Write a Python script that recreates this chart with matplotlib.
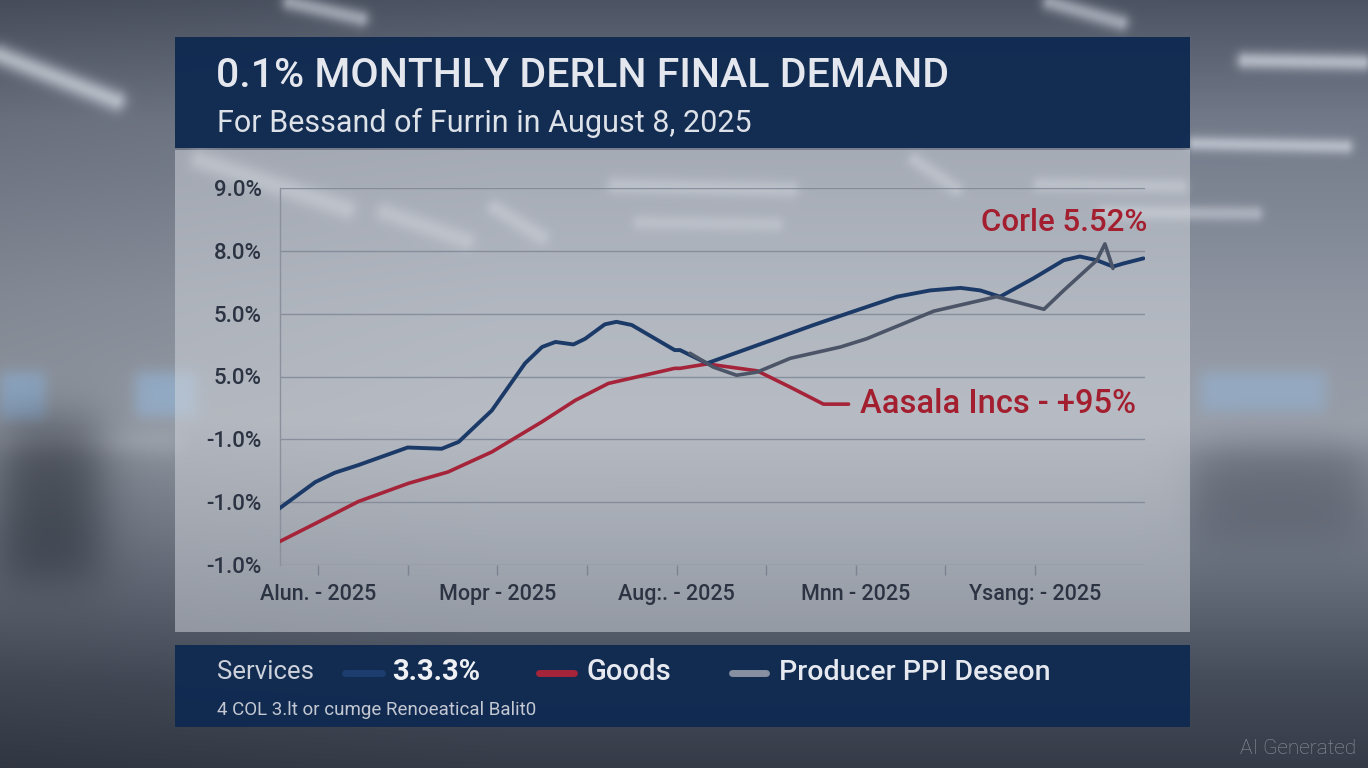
import numpy as np
import matplotlib
matplotlib.use("Agg")
import matplotlib.pyplot as plt
from matplotlib.patches import Rectangle

plt.rcParams['font.family'] = ['Roboto', 'DejaVu Sans']

# ---------------- data ----------------
title = "0.1% MONTHLY DERLN FINAL DEMAND"
subtitle = "For Bessand of Furrin in August 8, 2025"
y_tick_labels = ['-1.0%', '-1.0%', '-1.0%', '5.0%', '5.0%', '8.0%', '9.0%']
x_tick_labels = ['Alun. - 2025', '', 'Mopr - 2025', '', 'Aug:. - 2025', '', 'Mnn - 2025', '', 'Ysang: - 2025']

services_x = [-0.46, -0.03, 0.19, 0.45, 1.0, 1.38, 1.57, 1.94, 2.31, 2.50, 2.65, 2.85, 2.98, 3.20, 3.33,
              3.50, 3.98, 4.04, 4.34, 4.75, 5.16, 5.53, 5.90, 6.46, 6.83, 7.17, 7.39, 7.61, 7.98, 8.32,
              8.50, 8.69, 8.87, 8.99, 9.21]
services_y = [0.87, 1.32, 1.47, 1.59, 1.87, 1.85, 1.96, 2.46, 3.21, 3.47, 3.55, 3.51, 3.60, 3.83, 3.87,
              3.82, 3.42, 3.42, 3.21, 3.42, 3.63, 3.82, 4.00, 4.27, 4.37, 4.41, 4.37, 4.27, 4.56, 4.85,
              4.91, 4.85, 4.75, 4.80, 4.88]

goods_x = [-0.46, -0.03, 0.45, 1.01, 1.45, 1.94, 2.50, 2.87, 3.24, 3.98, 4.04, 4.34, 4.90, 5.27, 5.64, 5.92]
goods_y = [0.35, 0.66, 1.01, 1.30, 1.48, 1.80, 2.28, 2.62, 2.89, 3.13, 3.13, 3.20, 3.09, 2.83, 2.56, 2.56]

ppi_x = [4.15, 4.41, 4.67, 4.90, 5.27, 5.83, 6.12, 6.87, 7.57, 8.10, 8.32, 8.69, 8.78, 8.87]
ppi_y = [3.37, 3.15, 3.02, 3.07, 3.29, 3.47, 3.60, 4.04, 4.27, 4.07, 4.37, 4.85, 5.11, 4.72]

legend_labels = ['Services', '3.3.3%', 'Goods', 'Producer PPI Deseon']
footnote = "4 COL 3.lt or cumge Renoeatical Balit0"
annot_core = "Corle 5.52%"
annot_goods = "Aasala Incs - +95%"
watermark = "AI Generated"

# ---------------- colours ----------------
NAVY = '#102a51'
BLUE = '#1c3a68'
RED = '#a5243a'
GREY = '#4b5567'
ANNOT_RED = '#a31f30'

W, H = 1368, 768
fig = plt.figure(figsize=(W / 100, H / 100), dpi=100)

# ---------------- blurred office-like background ----------------
bg = fig.add_axes([0, 0, 1, 1])
yy, xx = np.mgrid[0:H, 0:W].astype(float)
stops_y = [0, 120, 300, 420, 560, 680, 768]
cols = np.array([[0x4c, 0x53, 0x62], [0x72, 0x79, 0x88], [0x8e, 0x95, 0xa1], [0x9a, 0xa0, 0xaa],
                 [0x6c, 0x73, 0x80], [0x45, 0x4c, 0x59], [0x35, 0x3b, 0x47]], float) / 255
img = np.zeros((H, W, 3))
for c in range(3):
    img[..., c] = np.interp(yy, stops_y, cols[:, c])
img *= (0.92 + 0.08 * np.clip(xx / 500, 0, 1))[..., None]


def soft_rect(x0, y0, x1, y1, color, alpha, blur=6):
    global img
    fx = 1 / (1 + np.exp(-(xx - x0) / blur)) * 1 / (1 + np.exp((xx - x1) / blur))
    fy = 1 / (1 + np.exp(-(yy - y0) / blur)) * 1 / (1 + np.exp((yy - y1) / blur))
    m = (fx * fy * alpha)[..., None]
    img = img * (1 - m) + np.array(color)[None, None, :] * m


def light_bar(x0, y0, x1, y1, width, alpha=0.55):
    global img
    px, py = x1 - x0, y1 - y0
    t = np.clip(((xx - x0) * px + (yy - y0) * py) / (px * px + py * py), 0, 1)
    d = np.hypot(xx - (x0 + t * px), yy - (y0 + t * py))
    m = (alpha * np.exp(-(d / width) ** 2))[..., None]
    img = img * (1 - m) + np.array([0.90, 0.92, 0.95])[None, None, :] * m


for seg in [(0, 55, 115, 100, 11, 0.6), (290, 2, 360, 18, 9, 0.5), (1050, 2, 1120, 22, 9, 0.5),
            (1245, 60, 1362, 62, 9, 0.6), (1195, 143, 1345, 146, 8, 0.55),
            (200, 160, 345, 208, 11, 0.4), (385, 212, 465, 240, 10, 0.35), (495, 208, 540, 236, 9, 0.35),
            (615, 185, 790, 189, 9, 0.35), (640, 222, 775, 224, 8, 0.3), (915, 160, 955, 188, 8, 0.35),
            (1040, 184, 1180, 186, 8, 0.35), (1105, 212, 1255, 213, 8, 0.4)]:
    light_bar(*seg)
# monitors and desks
soft_rect(0, 372, 45, 420, (0.55, 0.68, 0.82), 0.7, 4)
soft_rect(135, 372, 196, 416, (0.58, 0.70, 0.83), 0.7, 4)
soft_rect(1200, 372, 1325, 412, (0.58, 0.70, 0.83), 0.6, 4)
soft_rect(0, 430, 180, 450, (0.72, 0.74, 0.78), 0.45, 6)
soft_rect(0, 420, 100, 580, (0.14, 0.16, 0.20), 0.6, 14)
soft_rect(1190, 420, 1368, 450, (0.70, 0.72, 0.76), 0.4, 6)
soft_rect(1190, 440, 1368, 540, (0.25, 0.28, 0.33), 0.45, 14)
bg.imshow(img, extent=(0, W, H, 0), aspect='auto', interpolation='bilinear')
bg.set_xlim(0, W)
bg.set_ylim(H, 0)
bg.axis('off')

# panels
bg.add_patch(Rectangle((175, 150), 1015, 482, facecolor='#d4d8de', alpha=0.5, edgecolor='none'))
bg.add_patch(Rectangle((175, 37), 1015, 111, facecolor=NAVY, alpha=0.97, edgecolor='none'))
bg.add_patch(Rectangle((175, 645), 1015, 82, facecolor=NAVY, alpha=0.97, edgecolor='none'))

# titles
bg.text(216, 76, title, fontsize=29.5, fontweight='medium', color='#e4e7ee', va='center', ha='left')
bg.text(217, 123, subtitle, fontsize=22, color='#dde1e8', va='center', ha='left')

# legend row
bg.text(217, 672, legend_labels[0], fontsize=18.5, color='#ccd1da', va='center', ha='left')
bg.plot([345, 382], [673, 673], color='#1d3d6e', lw=5, solid_capstyle='round')
bg.text(392, 672, legend_labels[1], fontsize=21, fontweight='bold', color='#eef0f4', va='center', ha='left')
bg.plot([539, 574], [673, 673], color=RED, lw=5, solid_capstyle='round')
bg.text(586, 672, legend_labels[2], fontsize=21, fontweight='medium', color='#e6e9ef', va='center', ha='left')
bg.plot([732, 766], [673, 673], color='#8790a0', lw=5, solid_capstyle='round')
bg.text(779, 672, legend_labels[3], fontsize=20.5, fontweight='medium', color='#e6e9ef', va='center', ha='left')
bg.text(217, 710, footnote, fontsize=13.5, color='#c3c8d2', va='center', ha='left')

bg.text(1356, 748, watermark, fontsize=15, color='#8e94a0', va='center', ha='right', fontweight='light')

# ---------------- chart ----------------
x_left_px, x_right_px = 280, 1145
y_top_px, y_bot_px = 188, 565
ax = fig.add_axes([x_left_px / W, 1 - y_bot_px / H, (x_right_px - x_left_px) / W, (y_bot_px - y_top_px) / H])
ax.patch.set_alpha(0)
tick_step_px = (1035 - 318) / 8
ax.set_xlim((x_left_px - 318) / tick_step_px, (x_right_px - 318) / tick_step_px)
ax.set_ylim(0, 6)

ax.set_yticks(range(len(y_tick_labels)))
ax.set_yticklabels(y_tick_labels)
ax.set_xticks(range(len(x_tick_labels)))
ax.set_xticklabels(x_tick_labels)
ax.tick_params(axis='y', length=0, pad=13, labelsize=16, labelcolor='#2c3342')
ax.tick_params(axis='x', length=7, width=1, color='#7c8392', pad=7, labelsize=15.5, labelcolor='#2c3342')
for lab in ax.get_xticklabels() + ax.get_yticklabels():
    lab.set_fontweight('medium')
ax.grid(axis='y', color='#7e8593', lw=1, alpha=0.8)
for s in ['top', 'right', 'bottom']:
    ax.spines[s].set_visible(False)
ax.spines['left'].set_color('#8a909c')
ax.spines['left'].set_linewidth(1)

ax.plot(goods_x, goods_y, color=RED, lw=2.6, solid_capstyle='round', solid_joinstyle='round', zorder=3)
ax.plot(services_x, services_y, color=BLUE, lw=2.8, solid_capstyle='round', solid_joinstyle='round', zorder=4)
ax.plot(ppi_x, ppi_y, color=GREY, lw=2.6, solid_capstyle='round', solid_joinstyle='round', zorder=5)

ax.text(goods_x[-1] + 0.13, goods_y[-1], annot_goods, fontsize=23.5, fontweight='medium', color=ANNOT_RED,
        va='center', ha='left', zorder=6)
ax.text(9.25, 5.45, annot_core, fontsize=22.5, fontweight='medium', color=ANNOT_RED,
        va='center', ha='right', zorder=6)

fig.savefig('out.png', dpi=100)
